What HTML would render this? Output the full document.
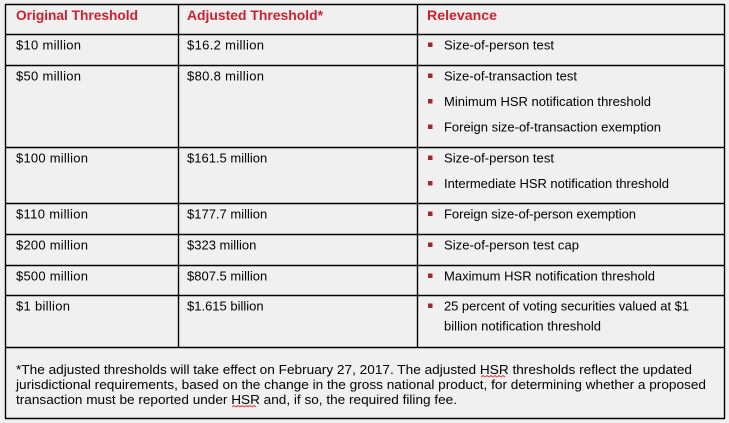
<!DOCTYPE html>
<html>
<head>
<meta charset="utf-8">
<style>
html,body{margin:0;padding:0;background:#f0f0f0;}
svg{display:block;}
text{font-family:"Liberation Sans",Arial,sans-serif;}
.h{font-size:14px;font-weight:bold;fill:#d11f2e;}
.b{font-size:13px;fill:#000;}
</style>
</head>
<body>
<svg width="729" height="423" viewBox="0 0 729 423" xmlns="http://www.w3.org/2000/svg">
<rect x="0" y="0" width="729" height="423" fill="#f0f0f0"/>
<g stroke="#000" stroke-width="1.4" fill="none">
<line x1="5" y1="4.5" x2="725" y2="4.5"/>
<line x1="5" y1="34.5" x2="725" y2="34.5"/>
<line x1="5" y1="65.5" x2="725" y2="65.5"/>
<line x1="5" y1="147.5" x2="725" y2="147.5"/>
<line x1="5" y1="203.5" x2="725" y2="203.5"/>
<line x1="5" y1="234.5" x2="725" y2="234.5"/>
<line x1="5" y1="265.5" x2="725" y2="265.5"/>
<line x1="5" y1="295.5" x2="725" y2="295.5"/>
<line x1="5" y1="347.5" x2="725" y2="347.5"/>
<line x1="5" y1="418.5" x2="725" y2="418.5"/>
<line x1="5.5" y1="4" x2="5.5" y2="419"/>
<line x1="724.5" y1="4" x2="724.5" y2="419"/>
<line x1="178.5" y1="4" x2="178.5" y2="347"/>
<line x1="417.5" y1="4" x2="417.5" y2="347"/>
</g>

<text class="h" x="16" y="20" textLength="122" lengthAdjust="spacingAndGlyphs">Original Threshold</text>
<text class="h" x="187" y="20" textLength="136" lengthAdjust="spacingAndGlyphs">Adjusted Threshold*</text>
<text class="h" x="427" y="20" textLength="70" lengthAdjust="spacingAndGlyphs">Relevance</text>

<g class="b">
<text class="b" x="16" y="49.5" textLength="65">$10 million</text>
<text class="b" x="187" y="49.5" textLength="77">$16.2 million</text>
<text class="b" x="16" y="80.5" textLength="65">$50 million</text>
<text class="b" x="187" y="80.5" textLength="77">$80.8 million</text>
<text class="b" x="16" y="162.5" textLength="72">$100 million</text>
<text class="b" x="187" y="162.5">$161.5 million</text>
<text class="b" x="16" y="218.5" textLength="72">$110 million</text>
<text class="b" x="187" y="218.5">$177.7 million</text>
<text class="b" x="16" y="249.5" textLength="72">$200 million</text>
<text class="b" x="187" y="249.5">$323 million</text>
<text class="b" x="16" y="280.5" textLength="72">$500 million</text>
<text class="b" x="187" y="280.5">$807.5 million</text>
<text class="b" x="16" y="310.5" textLength="54">$1 billion</text>
<text class="b" x="187" y="310.5">$1.615 billion</text>
</g>

<g fill="#a3282e">
<rect x="428" y="42.5" width="4.5" height="4.5"/>
<rect x="428" y="73.5" width="4.5" height="4.5"/>
<rect x="428" y="99" width="4.5" height="4.5"/>
<rect x="428" y="124.5" width="4.5" height="4.5"/>
<rect x="428" y="155.5" width="4.5" height="4.5"/>
<rect x="428" y="181" width="4.5" height="4.5"/>
<rect x="428" y="211.5" width="4.5" height="4.5"/>
<rect x="428" y="242.5" width="4.5" height="4.5"/>
<rect x="428" y="273.5" width="4.5" height="4.5"/>
<rect x="428" y="303.5" width="4.5" height="4.5"/>
</g>

<text class="b" x="444" y="49.5" textLength="110">Size-of-person test</text>
<text class="b" x="444" y="80.5" textLength="133">Size-of-transaction test</text>
<text class="b" x="444" y="106" textLength="207">Minimum HSR notification threshold</text>
<text class="b" x="444" y="131.5" textLength="217">Foreign size-of-transaction exemption</text>
<text class="b" x="444" y="162.5" textLength="110">Size-of-person test</text>
<text class="b" x="444" y="188" textLength="225">Intermediate HSR notification threshold</text>
<text class="b" x="444" y="218.5" textLength="192">Foreign size-of-person exemption</text>
<text class="b" x="444" y="249.5" textLength="135">Size-of-person test cap</text>
<text class="b" x="444" y="280.5" textLength="211">Maximum HSR notification threshold</text>
<text class="b" x="444" y="310.5" textLength="245">25 percent of voting securities valued at $1</text>
<text class="b" x="444" y="330.5" textLength="157">billion notification threshold</text>

<text class="b" x="16" y="374" textLength="676" lengthAdjust="spacingAndGlyphs">*The adjusted thresholds will take effect on February 27, 2017. The adjusted HSR thresholds reflect the updated</text>
<text class="b" x="16" y="389" textLength="690" lengthAdjust="spacingAndGlyphs">jurisdictional requirements, based on the change in the gross national product, for determining whether a proposed</text>
<text class="b" x="16" y="404" textLength="441" lengthAdjust="spacingAndGlyphs">transaction must be reported under HSR and, if so, the required filing fee.</text>

<g stroke="#e03030" stroke-width="0.8" fill="none">
<polyline points="481,377 483,375.5 485,377 487,375.5 489,377 491,375.5 493,377 495,375.5 497,377 499,375.5 501,377 503,375.5 505,377"/>
<polyline points="232,407 234,405.5 236,407 238,405.5 240,407 242,405.5 244,407 246,405.5 248,407 250,405.5 252,407 254,405.5 256,407"/>
</g>
</svg>
</body>
</html>
